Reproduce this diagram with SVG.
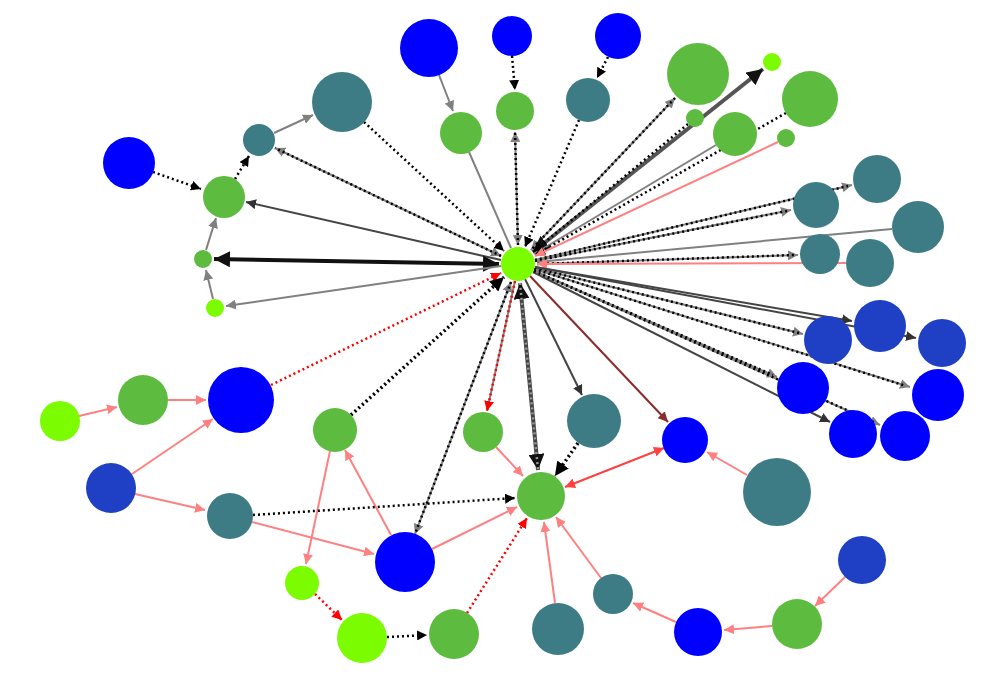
<svg xmlns="http://www.w3.org/2000/svg" width="1000" height="700" viewBox="0 0 1000 700">
<style>
.b{fill:#0000ff}.d{fill:#1f3fc4}.t{fill:#3d7c85}.g{fill:#5dbb3f}.l{fill:#7cfc00}
line{fill:none;stroke-width:2}
.gr{stroke:#808080;marker-end:url(#mg)}
.grs{stroke:#808080}
.dt{stroke:#000;stroke-dasharray:2,3;stroke-width:2.5}
.dta{stroke:#000;stroke-dasharray:2,3;stroke-width:2.5;marker-end:url(#mk)}
.dk{stroke:#444;marker-end:url(#md)}
.lr{stroke:#ff8080;marker-end:url(#ml)}
.rd{stroke:#ff0000;stroke-dasharray:2,3;stroke-width:2.5;marker-end:url(#mr)}
.both{marker-start:url(#mg);marker-end:url(#mg)}
</style>
<defs>
<marker id="mg" viewBox="0 0 10 10" refX="10" refY="5" markerWidth="5" markerHeight="5" orient="auto-start-reverse"><path d="M0,0L10,5L0,10z" fill="#808080"/></marker>
<marker id="mk" viewBox="0 0 10 10" refX="10" refY="5" markerWidth="4" markerHeight="4" orient="auto-start-reverse"><path d="M0,0L10,5L0,10z" fill="#000"/></marker>
<marker id="md" viewBox="0 0 10 10" refX="10" refY="5" markerWidth="5" markerHeight="5" orient="auto-start-reverse"><path d="M0,0L10,5L0,10z" fill="#333"/></marker>
<marker id="ml" viewBox="0 0 10 10" refX="10" refY="5" markerWidth="5" markerHeight="5" orient="auto-start-reverse"><path d="M0,0L10,5L0,10z" fill="#ff8080"/></marker>
<marker id="mr" viewBox="0 0 10 10" refX="10" refY="5" markerWidth="4" markerHeight="4" orient="auto-start-reverse"><path d="M0,0L10,5L0,10z" fill="#ff0000"/></marker>
<marker id="mr2" viewBox="0 0 10 10" refX="10" refY="5" markerWidth="5" markerHeight="5" orient="auto-start-reverse"><path d="M0,0L10,5L0,10z" fill="#ff4040"/></marker>
<marker id="mdr" viewBox="0 0 10 10" refX="10" refY="5" markerWidth="5" markerHeight="5" orient="auto-start-reverse"><path d="M0,0L10,5L0,10z" fill="#8b2a2a"/></marker>
<marker id="mbig" viewBox="0 0 10 10" refX="10" refY="5" markerWidth="4" markerHeight="4" orient="auto-start-reverse"><path d="M0,0L10,5L0,10z" fill="#111"/></marker>
</defs>
<g id="connectors">
<line class="dk" x1="501" y1="260" x2="246" y2="202"/>
<line class="grs both" x1="501" y1="256" x2="275" y2="148" stroke-width="3"/><line class="dt" x1="501" y1="256" x2="275" y2="148"/>
<line style="stroke:#111;stroke-width:4;marker-start:url(#mbig);marker-end:url(#mbig)" x1="499" y1="264" x2="214" y2="259"/>
<line class="gr" x1="501" y1="266" x2="226" y2="306"/>
<line class="dta" x1="364" y1="122" x2="504" y2="251"/>
<line class="grs" x1="469" y1="152" x2="511" y2="248"/>
<line class="grs both" x1="518" y1="245" x2="515" y2="132" stroke-width="3"/><line class="dt" x1="518" y1="245" x2="515" y2="132"/>
<line class="dta" x1="579" y1="120" x2="525" y2="247"/>
<line class="grs both" x1="675" y1="98" x2="531" y2="250" stroke-width="3"/><line class="dt" x1="675" y1="98" x2="531" y2="250"/>
<line style="stroke:#555;stroke-width:4;marker-start:url(#mbig);marker-end:url(#mbig)" x1="533" y1="252" x2="763" y2="69"/>
<line class="dta" x1="688" y1="124" x2="533" y2="252"/>
<line class="grs" x1="716" y1="145" x2="534" y2="254"/>
<line class="dta" x1="786" y1="113" x2="535" y2="255"/>
<line class="lr" x1="778" y1="142" x2="535" y2="256"/>
<line class="gr" x1="535" y1="260" x2="852" y2="185" stroke-width="3"/><line class="dt" x1="535" y1="260" x2="848" y2="186"/>
<line class="gr" x1="535" y1="261" x2="791" y2="210" stroke-width="3"/><line class="dt" x1="535" y1="261" x2="787" y2="211"/>
<line class="grs" x1="892" y1="229" x2="537" y2="262"/>
<line class="gr" x1="537" y1="264" x2="798" y2="255" stroke-width="3"/><line class="dt" x1="537" y1="264" x2="794" y2="255"/>
<line class="lr" x1="846" y1="263" x2="537" y2="264"/>
<line class="gr" x1="535" y1="268" x2="803" y2="334" stroke-width="3"/><line class="dt" x1="535" y1="268" x2="799" y2="333"/>
<line class="dk" x1="535" y1="267" x2="852" y2="321"/>
<line class="dk" x1="535" y1="267" x2="916" y2="338"/>
<line class="gr" x1="534" y1="271" x2="777" y2="377" stroke-width="3"/><line class="dt" x1="534" y1="271" x2="773" y2="375"/>
<line class="gr" x1="534" y1="269" x2="910" y2="387" stroke-width="3"/><line class="dt" x1="534" y1="269" x2="906" y2="386"/>
<line class="dk" x1="533" y1="272" x2="830" y2="422" stroke-width="3"/>
<line class="gr" x1="534" y1="271" x2="880" y2="425" stroke-width="3"/><line class="dt" x1="534" y1="271" x2="876" y2="423"/>
<line class="rd" x1="271" y1="385" x2="501" y2="273"/>
<line class="dta" x1="351" y1="415" x2="504" y2="277" style="stroke-width:3.5"/>
<line class="grs" x1="515" y1="281" x2="487" y2="411" stroke-width="3"/><line class="rd" x1="515" y1="281" x2="487" y2="411"/>
<line class="grs both" x1="511" y1="282" x2="415" y2="534" stroke-width="3"/><line class="dt" x1="511" y1="282" x2="415" y2="534"/>
<line style="stroke:#444;stroke-width:4;marker-start:url(#mbig);marker-end:url(#mbig)" x1="520" y1="283" x2="538" y2="470"/><line class="dt" x1="520" y1="283" x2="538" y2="470" style="stroke:#999"/>
<line class="dk" x1="525" y1="279" x2="582" y2="395"/>
<line style="stroke:#8b2a2a;marker-end:url(#mdr)" x1="530" y1="276" x2="668" y2="422"/>
<line class="gr" x1="439" y1="75" x2="453" y2="111"/>
<line class="dta" x1="512" y1="56" x2="515" y2="90"/>
<line class="dta" x1="608" y1="57" x2="597" y2="78"/>
<line class="dta" x1="153" y1="172" x2="201" y2="189"/>
<line class="dta" x1="235" y1="179" x2="249" y2="156"/>
<line class="gr" x1="274" y1="133" x2="313" y2="115"/>
<line class="gr" x1="206" y1="250" x2="216" y2="218"/>
<line class="gr" x1="213" y1="299" x2="206" y2="270"/>
<line class="lr" x1="79" y1="416" x2="117" y2="407"/>
<line class="lr" x1="168" y1="400" x2="206" y2="400"/>
<line class="lr" x1="132" y1="474" x2="213" y2="419"/>
<line class="lr" x1="135" y1="494" x2="205" y2="510"/>
<line class="lr" x1="252" y1="522" x2="374" y2="554"/>
<line class="lr" x1="391" y1="535" x2="345" y2="450"/>
<line class="lr" x1="330" y1="451" x2="306" y2="564"/>
<line class="lr" x1="432" y1="549" x2="517" y2="507"/>
<line class="lr" x1="496" y1="447" x2="523" y2="476"/>
<line class="dta" x1="253" y1="515" x2="515" y2="498"/>
<line class="rd" x1="315" y1="594" x2="342" y2="620"/>
<line class="dta" x1="387" y1="637" x2="427" y2="635"/>
<line class="rd" x1="467" y1="613" x2="527" y2="518"/>
<line class="lr" x1="555" y1="603" x2="544" y2="522"/>
<line class="lr" x1="601" y1="578" x2="556" y2="517"/>
<line class="lr" x1="676" y1="622" x2="633" y2="603"/>
<line class="lr" x1="772" y1="626" x2="724" y2="630"/>
<line class="lr" x1="845" y1="577" x2="815" y2="606"/>
<line class="lr" x1="747" y1="475" x2="707" y2="452"/>
<line style="stroke:#ff4040;marker-start:url(#mr2);marker-end:url(#mr2)" x1="664" y1="448" x2="565" y2="487"/>
<line class="dta" x1="578" y1="443" x2="555" y2="476" style="stroke-width:3.5"/>
</g>
<g id="n1"><circle class="b" cx="429" cy="48" r="29"/></g>
<g id="n2"><circle class="b" cx="512" cy="36" r="20"/></g>
<g id="n3"><circle class="b" cx="618" cy="36" r="23"/></g>
<g id="n4"><circle class="t" cx="342" cy="102" r="30"/></g>
<g id="n5"><circle class="t" cx="259" cy="140" r="16"/></g>
<g id="n6"><circle class="b" cx="129" cy="163" r="26"/></g>
<g id="n7"><circle class="g" cx="224" cy="197" r="21"/></g>
<g id="n8"><circle class="g" cx="203" cy="259" r="9"/></g>
<g id="n9"><circle class="l" cx="215" cy="308" r="9"/></g>
<g id="n10"><circle class="g" cx="461" cy="133" r="21"/></g>
<g id="n11"><circle class="g" cx="515" cy="111" r="19"/></g>
<g id="n12"><circle class="t" cx="588" cy="100" r="22"/></g>
<g id="n13"><circle class="g" cx="698" cy="74" r="31"/></g>
<g id="n14"><circle class="l" cx="772" cy="62" r="9"/></g>
<g id="n15"><circle class="g" cx="695" cy="118" r="9"/></g>
<g id="n16"><circle class="g" cx="735" cy="134" r="22"/></g>
<g id="n17"><circle class="g" cx="810" cy="99" r="28"/></g>
<g id="n18"><circle class="g" cx="786" cy="138" r="9"/></g>
<g id="n19"><circle class="t" cx="877" cy="179" r="24"/></g>
<g id="n20"><circle class="t" cx="816" cy="205" r="23"/></g>
<g id="n21"><circle class="t" cx="918" cy="227" r="26"/></g>
<g id="n22"><circle class="t" cx="820" cy="254" r="20"/></g>
<g id="n23"><circle class="t" cx="870" cy="263" r="24"/></g>
<g id="n24"><circle class="d" cx="828" cy="340" r="24"/></g>
<g id="n25"><circle class="d" cx="880" cy="326" r="26"/></g>
<g id="n26"><circle class="d" cx="942" cy="343" r="24"/></g>
<g id="n27"><circle class="b" cx="803" cy="388" r="26"/></g>
<g id="n28"><circle class="b" cx="938" cy="395" r="26"/></g>
<g id="n29"><circle class="b" cx="853" cy="434" r="24"/></g>
<g id="n30"><circle class="b" cx="905" cy="436" r="25"/></g>
<g id="n31"><circle class="l" cx="60" cy="421" r="20"/></g>
<g id="n32"><circle class="g" cx="143" cy="400" r="25"/></g>
<g id="n33"><circle class="b" cx="241" cy="400" r="33"/></g>
<g id="n34"><circle class="d" cx="111" cy="488" r="25"/></g>
<g id="n35"><circle class="t" cx="230" cy="516" r="23"/></g>
<g id="n36"><circle class="g" cx="335" cy="430" r="22"/></g>
<g id="n37"><circle class="g" cx="483" cy="432" r="20"/></g>
<g id="n38"><circle class="t" cx="594" cy="421" r="27"/></g>
<g id="n39"><circle class="b" cx="685" cy="440" r="23"/></g>
<g id="n40"><circle class="t" cx="777" cy="492" r="34"/></g>
<g id="n41"><circle class="g" cx="541" cy="496" r="24"/></g>
<g id="n42"><circle class="b" cx="405" cy="562" r="30"/></g>
<g id="n43"><circle class="l" cx="302" cy="583" r="17"/></g>
<g id="n44"><circle class="l" cx="362" cy="638" r="25"/></g>
<g id="n45"><circle class="g" cx="454" cy="634" r="25"/></g>
<g id="n46"><circle class="t" cx="558" cy="629" r="26"/></g>
<g id="n47"><circle class="t" cx="613" cy="594" r="20"/></g>
<g id="n48"><circle class="b" cx="698" cy="632" r="24"/></g>
<g id="n49"><circle class="g" cx="797" cy="624" r="25"/></g>
<g id="n50"><circle class="d" cx="862" cy="560" r="24"/></g>
<g id="hub"><circle class="l" cx="518" cy="264" r="17"/></g>
</svg>
